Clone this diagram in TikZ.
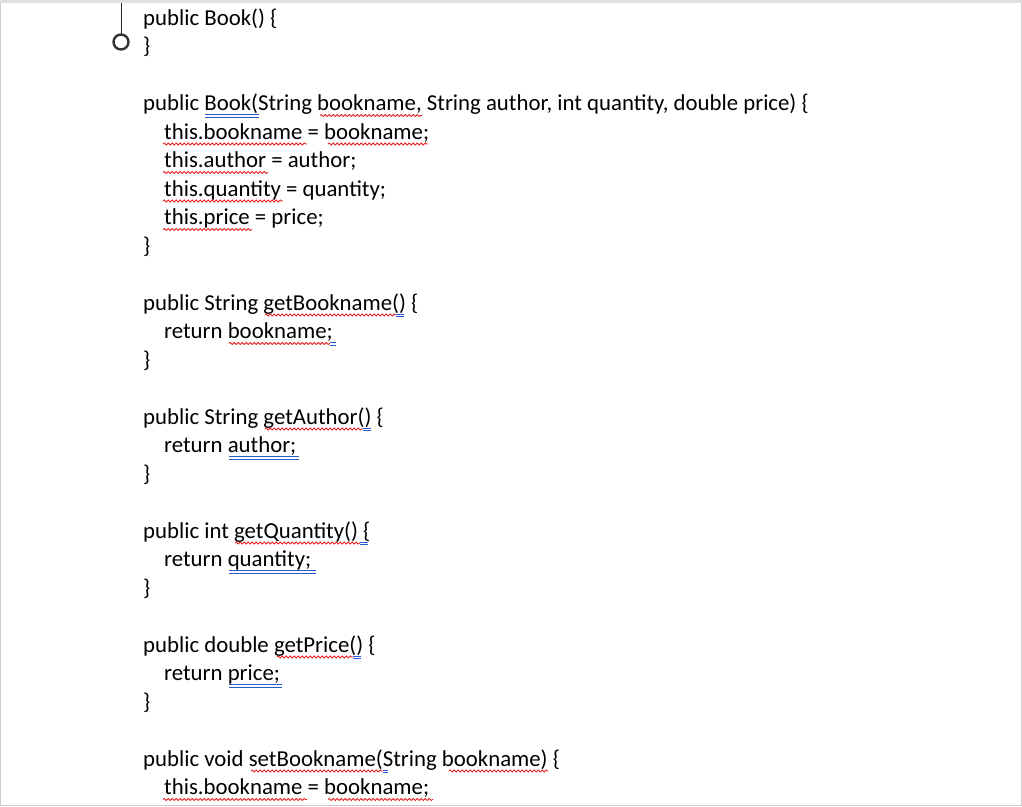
\documentclass[tikz,border=0pt]{standalone}
\usepackage{fontspec}
\setmainfont{Carlito}
\usetikzlibrary{decorations.pathmorphing}
\definecolor{spellred}{RGB}{230,30,30}
\definecolor{gramblue}{RGB}{40,90,210}
\tikzset{
    codeline/.style={anchor=base west, inner sep=0pt, font=\fontsize{22.8}{26}\selectfont},
    spell/.style={draw=spellred, line width=0.8pt, decorate, decoration={snake, amplitude=1.1pt, segment length=4pt}},
    gram/.style={draw=gramblue, line width=0.8pt},
}
% line k sits on baseline 25 + 28.5 k
\newcommand{\bl}[1]{\fpeval{25+28.5*#1}}
\newcommand{\squig}[3]{\draw[spell] (#2, \bl{#1}+5) -- (#3, \bl{#1}+5);}
\newcommand{\dbl}[3]{\draw[gram] (#2, \bl{#1}+4) -- (#3, \bl{#1}+4) (#2, \bl{#1}+6.5) -- (#3, \bl{#1}+6.5);}

\begin{document}
\begin{tikzpicture}[x=1pt, y=-1pt]
    \useasboundingbox (0,0) rectangle (1022,806);
    \draw[black!20, line width=1pt] (0.5,0.5) rectangle (1021.5,805.5);
    \fill[black!12] (0,0) rectangle (1022,2.5);

    % cursor
    \draw[black!85, line width=0.8pt] (121,3) -- (121,34);
    \node[draw=black!80, line width=2.4pt, circle, minimum size=15pt, inner sep=0pt] (mark) at (121,42) {};

    \node[codeline] (l0) at (143, \bl{0}) {public Book() \{};
    \node[codeline] (l1) at (143, \bl{1}) {\}};
    \node[codeline] (l3) at (143, \bl{3}) {public Book(String bookname, String author, int quantity, double price) \{};
    \node[codeline] (l4) at (164, \bl{4}) {this.bookname = bookname;};
    \node[codeline] (l5) at (164, \bl{5}) {this.author = author;};
    \node[codeline] (l6) at (164, \bl{6}) {this.quantity = quantity;};
    \node[codeline] (l7) at (164, \bl{7}) {this.price = price;};
    \node[codeline] (l8) at (143, \bl{8}) {\}};
    \node[codeline] (l10) at (143, \bl{10}) {public String getBookname() \{};
    \node[codeline] (l11) at (164, \bl{11}) {return bookname;};
    \node[codeline] (l12) at (143, \bl{12}) {\}};
    \node[codeline] (l14) at (143, \bl{14}) {public String getAuthor() \{};
    \node[codeline] (l15) at (164, \bl{15}) {return author;};
    \node[codeline] (l16) at (143, \bl{16}) {\}};
    \node[codeline] (l18) at (143, \bl{18}) {public int getQuantity() \{};
    \node[codeline] (l19) at (164, \bl{19}) {return quantity;};
    \node[codeline] (l20) at (143, \bl{20}) {\}};
    \node[codeline] (l22) at (143, \bl{22}) {public double getPrice() \{};
    \node[codeline] (l23) at (164, \bl{23}) {return price;};
    \node[codeline] (l24) at (143, \bl{24}) {\}};
    \node[codeline] (l26) at (143, \bl{26}) {public void setBookname(String bookname) \{};
    \node[codeline] (l27) at (164, \bl{27}) {this.bookname = bookname;};

    % spelling and grammar marks
    \dbl{3}{205}{259}
    \squig{3}{320}{422}
    \squig{4}{163}{307}
    \squig{4}{328}{428}
    \squig{5}{163}{268}
    \squig{6}{163}{283}
    \squig{7}{163}{252}
    \squig{10}{265}{396}
    \dbl{10}{396}{404}
    \squig{11}{229}{330}
    \dbl{11}{330}{336}
    \squig{14}{265}{363}
    \dbl{14}{363}{371}
    \dbl{15}{229}{299}
    \squig{18}{235}{360}
    \dbl{18}{360}{368}
    \dbl{19}{229}{316}
    \squig{22}{277}{353}
    \dbl{22}{353}{361}
    \dbl{23}{229}{282}
    \squig{26}{251}{383}
    \dbl{26}{383}{388}
    \squig{26}{449}{548}
    \squig{27}{163}{307}
    \squig{27}{328}{433}
\end{tikzpicture}
\end{document}
